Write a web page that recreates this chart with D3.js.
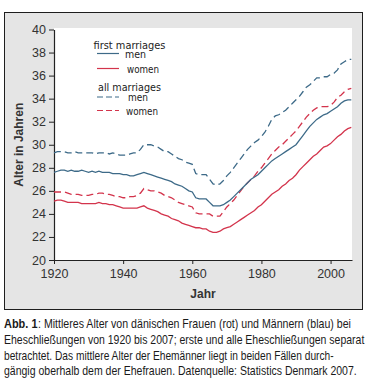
<!DOCTYPE html>
<html>
<head>
<meta charset="utf-8">
<script src="https://cdn.jsdelivr.net/npm/d3@7"></script>
<style>
  html, body { margin: 0; padding: 0; background: #ffffff; }
  svg { display: block; }
</style>
</head>
<body>
<div id="chart"></div>
<script>
// ---------- data ----------
const years = d3.range(1920, 2007); // 1920..2006 (category years)

const firstMarriagesMen = [
  27.6, 27.7, 27.8, 27.8, 27.7, 27.8, 27.7, 27.7, 27.8, 27.7,
  27.6, 27.7, 27.6, 27.7, 27.6, 27.6, 27.6, 27.5, 27.5, 27.5,
  27.4, 27.4, 27.3, 27.3, 27.4, 27.5, 27.6, 27.5, 27.4, 27.3,
  27.2, 27.1, 27.0, 26.9, 26.8, 26.6, 26.5, 26.4, 26.2, 26.0,
  25.9, 25.4, 25.3, 25.3, 25.3, 25.0, 24.7, 24.7, 24.7, 24.8,
  25.0, 25.2, 25.5, 25.8, 26.1, 26.4, 26.7, 27.0, 27.2, 27.4,
  27.7, 28.0, 28.3, 28.6, 28.8, 29.0, 29.2, 29.4, 29.6, 29.8,
  30.0, 30.4, 30.8, 31.2, 31.6, 31.9, 32.2, 32.4, 32.6, 32.7,
  32.9, 33.1, 33.3, 33.6, 33.8, 33.9, 33.9
];

const firstMarriagesWomen = [
  25.1, 25.2, 25.2, 25.1, 25.0, 25.0, 25.0, 25.0, 24.9, 24.9,
  24.9, 24.9, 24.9, 25.0, 24.9, 24.9, 24.8, 24.8, 24.7, 24.6,
  24.5, 24.5, 24.5, 24.5, 24.5, 24.6, 24.7, 24.5, 24.4, 24.3,
  24.2, 24.0, 23.9, 23.8, 23.6, 23.5, 23.4, 23.2, 23.1, 23.0,
  22.9, 22.8, 22.8, 22.7, 22.7, 22.5, 22.4, 22.4, 22.5, 22.7,
  22.8, 22.9, 23.1, 23.3, 23.5, 23.7, 23.9, 24.1, 24.3, 24.6,
  24.8, 25.1, 25.4, 25.7, 25.9, 26.1, 26.4, 26.6, 26.9, 27.1,
  27.4, 27.8, 28.1, 28.4, 28.7, 29.0, 29.2, 29.5, 29.8, 29.9,
  30.1, 30.4, 30.7, 30.9, 31.2, 31.4, 31.5
];

const allMarriagesMen = [
  29.3, 29.4, 29.4, 29.4, 29.3, 29.3, 29.4, 29.3, 29.3, 29.3,
  29.3, 29.3, 29.2, 29.3, 29.3, 29.3, 29.2, 29.3, 29.2, 29.1,
  29.1, 29.1, 29.2, 29.3, 29.3, 29.6, 30.0, 30.0, 30.0, 29.9,
  29.8, 29.6, 29.4, 29.4, 29.2, 29.0, 28.8, 28.7, 28.5, 28.4,
  28.3, 27.5, 27.4, 27.4, 27.4, 27.0, 26.6, 26.5, 26.6, 26.9,
  27.3, 27.6, 28.0, 28.4, 28.8, 29.2, 29.6, 29.9, 30.2, 30.4,
  30.7, 31.1, 31.6, 32.2, 32.5, 32.6, 32.8, 33.0, 33.3, 33.6,
  33.9, 34.2, 34.6, 35.0, 35.2, 35.5, 35.8, 35.8, 35.9, 35.9,
  36.1, 36.2, 36.5, 37.0, 37.2, 37.4, 37.4
];

const allMarriagesWomen = [
  25.9, 25.9, 25.9, 25.9, 25.8, 25.7, 25.7, 25.7, 25.6, 25.6,
  25.6, 25.7, 25.7, 25.8, 25.8, 25.7, 25.7, 25.6, 25.5, 25.5,
  25.4, 25.4, 25.5, 25.5, 25.6, 25.8, 26.2, 26.1, 26.0, 26.0,
  25.9, 25.8, 25.6, 25.5, 25.4, 25.2, 25.0, 24.9, 24.8, 24.7,
  24.6, 24.1, 24.0, 24.0, 24.0, 24.0, 23.8, 23.8, 23.8, 24.2,
  24.6, 24.9, 25.2, 25.6, 26.0, 26.4, 26.7, 27.0, 27.3, 27.7,
  28.0, 28.4, 28.8, 29.2, 29.5, 29.8, 30.0, 30.3, 30.6, 30.9,
  31.2, 31.6, 32.0, 32.4, 32.7, 33.0, 33.2, 33.3, 33.3, 33.3,
  33.4, 33.7, 34.1, 34.3, 34.6, 34.8, 34.9
];

const xTickValues = [1920, 1940, 1960, 1980, 2000];
const yTickValues = [20, 22, 24, 26, 28, 30, 32, 34, 36, 38, 40];

const legendGroups = ["first marriages", "all marriages"];
const legendSeries = ["men", "women"];

const xTitle = "Jahr";
const yTitle = "Alter in Jahren";

const captionBold = "Abb. 1";
const captionLines = [
  ": Mittleres Alter von dänischen Frauen (rot) und Männern (blau) bei",
  "Eheschließungen von 1920 bis 2007; erste und alle Eheschließungen separat",
  "betrachtet. Das mittlere Alter der Ehemänner liegt in beiden Fällen durch-",
  "gängig oberhalb dem der Ehefrauen. Datenquelle: Statistics Denmark 2007."
];

// ---------- layout ----------
const W = 367, H = 383;
const BLUE = "#3d6a88", RED = "#d3344c";

const svg = d3.select("#chart").append("svg")
  .attr("width", W).attr("height", H);

svg.append("rect").attr("width", W).attr("height", H).attr("fill", "#ffffff");

// frame
svg.append("rect")
  .attr("x", 4.5).attr("y", 12.5).attr("width", 358).attr("height", 297)
  .attr("fill", "#e5e5e5").attr("stroke", "#1e1e1e").attr("stroke-width", 1);

const x = d3.scaleLinear().domain([1920, 2006.2]).range([54, 352]);
const y = d3.scaleLinear().domain([20, 40]).range([260, 29.5]);

// plot area
svg.append("rect")
  .attr("x", x(1920)).attr("y", 28)
  .attr("width", x(2006.2) - x(1920)).attr("height", y(20) - 28)
  .attr("fill", "#ffffff");

// axes
const axisFont = "'Liberation Sans', Arial, sans-serif";

const yAxis = svg.append("g")
  .attr("transform", `translate(${x(1920)},0)`)
  .call(d3.axisLeft(y).tickValues(yTickValues).tickSize(5).tickPadding(3).tickSizeOuter(0));
const xAxis = svg.append("g")
  .attr("transform", `translate(0,${y(20)})`)
  .call(d3.axisBottom(x).tickValues(xTickValues).tickFormat(d3.format("d")).tickSize(4).tickPadding(5).tickSizeOuter(0));

[yAxis, xAxis].forEach(g => {
  g.selectAll("path.domain").attr("stroke", "#222").attr("stroke-width", 1.2);
  g.selectAll(".tick line").attr("stroke", "#222");
  g.selectAll(".tick text").attr("fill", "#333").style("font-family", axisFont).style("font-size", "12.5px");
});

svg.append("text")
  .attr("x", (x(1920) + x(2006.2)) / 2).attr("y", 298)
  .attr("text-anchor", "middle")
  .style("font-family", axisFont).style("font-size", "12px").style("font-weight", "bold")
  .attr("fill", "#333").text(xTitle);

svg.append("text")
  .attr("transform", `translate(23,${(y(20) + y(40)) / 2}) rotate(-90)`)
  .attr("text-anchor", "middle")
  .style("font-family", axisFont).style("font-size", "12px").style("font-weight", "bold")
  .attr("fill", "#333").text(yTitle);

// series
const series = [
  { values: allMarriagesMen, color: BLUE, dash: "7,4" },
  { values: allMarriagesWomen, color: RED, dash: "7,4" },
  { values: firstMarriagesMen, color: BLUE, dash: null },
  { values: firstMarriagesWomen, color: RED, dash: null }
];

const line = d3.line()
  .x((d, i) => x(years[i]))
  .y(d => y(d));

series.forEach(s => {
  svg.append("path")
    .datum(s.values)
    .attr("fill", "none")
    .attr("stroke", s.color)
    .attr("stroke-width", 1.3)
    .attr("stroke-dasharray", s.dash)
    .attr("d", line);
});

// legend
const legFont = "'DejaVu Sans', Verdana, sans-serif";
const leg = svg.append("g");
const legendRows = [
  { type: "head", text: legendGroups[0], yy: 48.5, len: 72 },
  { type: "item", text: legendSeries[0], yy: 58, ly: 53.5, color: BLUE, dash: null, tx: 125, len: 21 },
  { type: "item", text: legendSeries[1], yy: 72.5, ly: 68.5, color: RED, dash: null, tx: 127, len: 32 },
  { type: "head", text: legendGroups[1], yy: 90.5, len: 63 },
  { type: "item", text: legendSeries[0], yy: 101, ly: 97, color: BLUE, dash: "6,3", tx: 128, len: 20 },
  { type: "item", text: legendSeries[1], yy: 114.5, ly: 110.5, color: RED, dash: "6,3", tx: 126, len: 32 }
];
legendRows.forEach(r => {
  if (r.type === "head") {
    leg.append("text")
      .attr("x", 129.5).attr("y", r.yy).attr("text-anchor", "middle")
      .attr("textLength", r.len).attr("lengthAdjust", "spacingAndGlyphs")
      .style("font-family", legFont).style("font-size", "10px")
      .attr("fill", "#222").text(r.text);
  } else {
    leg.append("line")
      .attr("x1", 97).attr("x2", 119).attr("y1", r.ly).attr("y2", r.ly)
      .attr("stroke", r.color).attr("stroke-width", 1.2)
      .attr("stroke-dasharray", r.dash);
    leg.append("text")
      .attr("x", r.tx).attr("y", r.yy)
      .attr("textLength", r.len).attr("lengthAdjust", "spacingAndGlyphs")
      .style("font-family", legFont).style("font-size", "10px")
      .attr("fill", "#222").text(r.text);
  }
});

// caption: condensed by horizontal scaling to the measured widths
const capFont = "'Liberation Sans Narrow', 'Liberation Sans', Arial, sans-serif";
const capBase = [328, 344, 359.5, 375];
const capStart = [38, 4, 4, 4];
const capEnd = [351, 365, 334, 357];

function fitText(g, txt, x0, x1, yb, bold) {
  const t = g.append("text")
    .attr("x", 0).attr("y", 0)
    .style("font-family", capFont).style("font-size", "13px")
    .style("font-weight", bold ? "bold" : "normal")
    .attr("fill", "#1a1a1a").text(txt);
  const w = t.node().getComputedTextLength();
  const sx = (x1 - x0) / w;
  t.attr("transform", `translate(${x0},${yb}) scale(${sx},1)`);
}

const cap = svg.append("g");
fitText(cap, captionBold, 4, 37.5, capBase[0], true);
captionLines.forEach((txt, i) => {
  fitText(cap, txt, capStart[i], capEnd[i], capBase[i], false);
});
</script>
</body>
</html>
